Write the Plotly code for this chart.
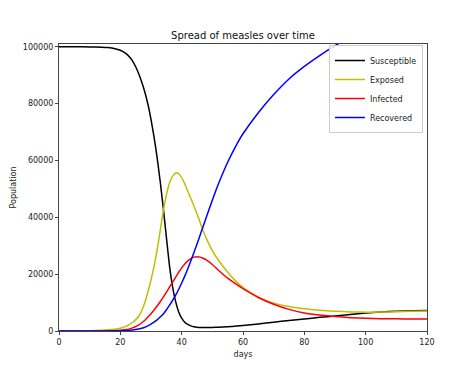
import plotly.graph_objects as go

days = [0, 5, 10, 14, 16, 18, 20, 22, 23, 24, 25, 26, 27, 28, 29, 30, 31, 32, 33, 34, 35, 36, 37, 38, 39, 40,
        41, 42, 43, 44, 45, 46, 47, 48, 50, 52, 55, 58, 60, 65, 70, 75, 80, 85, 90, 95, 100, 105, 110, 115, 120]

susceptible = [100000, 100000, 99980, 99900, 99750, 99450, 98800, 97500, 96400, 95000, 93000, 90500, 87500,
               84000, 79800, 74500, 68200, 61000, 52600, 43300, 33200, 23200, 15800, 10500, 6800, 4500,
               3100, 2300, 1800, 1500, 1350, 1250, 1220, 1200, 1250, 1330, 1500, 1750, 1950, 2500, 3100,
               3700, 4250, 4800, 5250, 5800, 6300, 6700, 6980, 7150, 7250]

exposed = [0, 20, 80, 250, 420, 650, 1000, 1700, 2300, 3000, 4000, 5200, 7200,
           10000, 13800, 18000, 22800, 28500, 35300, 42300, 47800, 52000, 54400, 55600, 55400, 54000,
           51800, 49200, 46600, 44000, 41200, 38300, 35300, 32700, 28300, 24900, 20700, 17200, 15300, 11900, 9800,
           8600, 7800, 7300, 6950, 6720, 6600, 6650, 6800, 6950, 7050]

infected = [0, 0, 5, 30, 60, 120, 250, 500, 750, 1100, 1550, 2150, 2900,
            3800, 4900, 6100, 7400, 8800, 10300, 11900, 13600, 15400, 17100, 18900, 20600, 22200,
            23600, 24700, 25500, 26000, 26150, 26000, 25600, 25000, 23400, 21400, 18600, 16300, 14900, 11800, 9400,
            7600, 6300, 5600, 5100, 4700, 4450, 4330, 4270, 4240, 4230]

recovered = [0, 0, 0, 10, 30, 50, 80, 180, 260, 350, 500, 700, 950,
             1300, 1800, 2400, 3100, 3900, 4900, 6000, 7400, 9000, 10700, 12500, 14600, 16900,
             19300, 21900, 24700, 27600, 30600, 33700, 36800, 39900, 46000, 51800, 59400, 65800, 69400, 76800, 83200,
             88700, 93100, 96900, 100400, 103600, 106500, 109100, 111300, 113200, 114800]

series = [
    ("Susceptible", susceptible, "#000000"),
    ("Exposed", exposed, "#bfbf00"),
    ("Infected", infected, "#ff0000"),
    ("Recovered", recovered, "#0000ff"),
]

fig = go.Figure()
for name, vals, color in series:
    fig.add_trace(go.Scatter(x=days, y=vals, mode="lines", name=name,
                             line=dict(color=color, width=1.5, shape="spline", smoothing=0.5)))

font = "DejaVu Sans"
fig.update_layout(
    width=474, height=372,
    margin=dict(l=51, r=55, t=36, b=49),
    paper_bgcolor="white", plot_bgcolor="white",
    font=dict(family=font, size=8, color="#222"),
    title=dict(text="Spread of measles over time", x=0.5, xref="paper", xanchor="center",
               y=1 - 27.7 / 372, yref="container", yanchor="middle",
               font=dict(family=font, size=10, color="#111")),
    showlegend=True,
    legend=dict(x=0.989, y=0.9965, xanchor="right", yanchor="top",
                bgcolor="rgba(255,255,255,0.85)", bordercolor="#cccccc", borderwidth=1,
                font=dict(family=font, size=8, color="#222"), itemwidth=30, tracegroupgap=0),
)
fig.update_xaxes(range=[0, 120], tickvals=[0, 20, 40, 60, 80, 100, 120], automargin=False,
                 showgrid=False, zeroline=False, showline=True, linecolor="#444", linewidth=1,
                 mirror=True, ticks="outside", ticklen=3, tickcolor="#444",
                 tickfont=dict(family=font, size=8, color="#222"),
                 title=dict(text="days", standoff=5, font=dict(family=font, size=8, color="#222")))
fig.update_yaxes(range=[0, 101000], tickvals=[0, 20000, 40000, 60000, 80000, 100000], automargin=False,
                 ticktext=["0", "20000", "40000", "60000", "80000", "100000"],
                 showgrid=False, zeroline=False, showline=True, linecolor="#444", linewidth=1,
                 mirror=True, ticks="outside", ticklen=3, tickcolor="#444",
                 tickfont=dict(family=font, size=8, color="#222"),
                 title=dict(text="Population", standoff=5, font=dict(family=font, size=8, color="#222")))

fig.write_html("out.html")
